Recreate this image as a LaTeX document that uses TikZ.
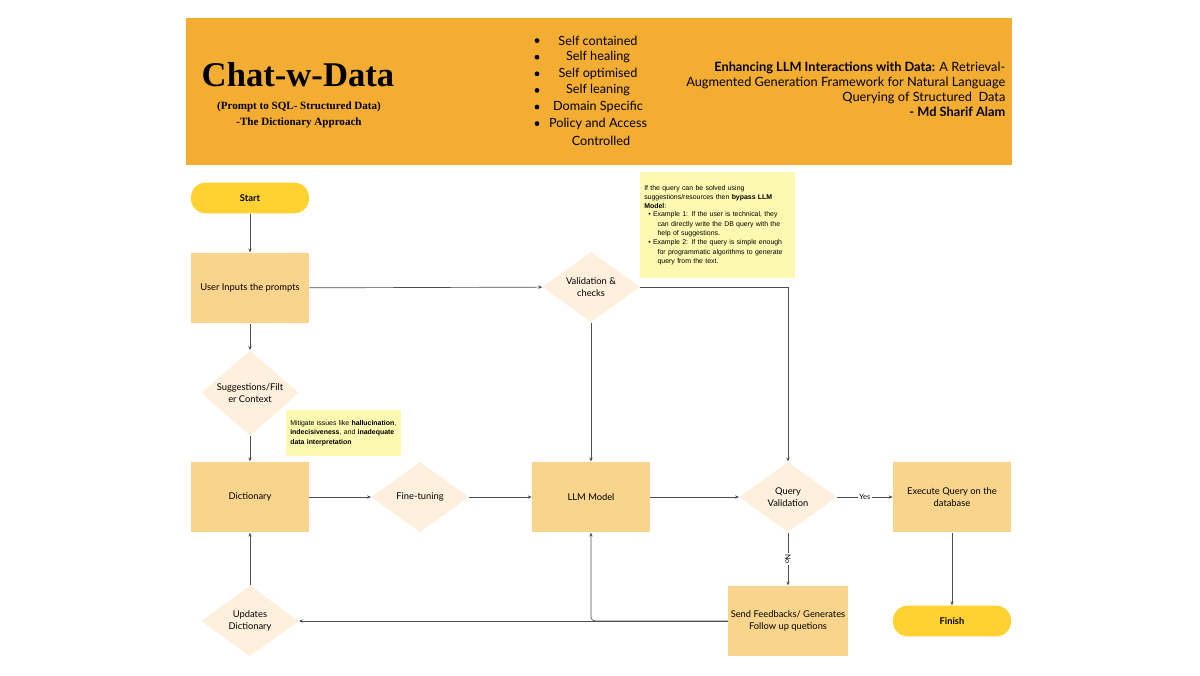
\documentclass[tikz,border=0pt]{standalone}
\usepackage{fontspec}
\setmainfont{Lato}
\newfontfamily\titlefont{Liberation Serif}
\newfontfamily\notefont{Liberation Sans}
\usetikzlibrary{shapes.geometric,arrows.meta}
\definecolor{banner}{HTML}{F4AD33}
\definecolor{pill}{HTML}{FFD232}
\definecolor{boxfill}{HTML}{F9D48C}
\definecolor{diafill}{HTML}{FEF0DC}
\definecolor{notefill}{HTML}{FEF9B0}
\definecolor{ink}{HTML}{222222}

\begin{document}
\begin{tikzpicture}[x=0.75pt,y=-0.75pt,>={Stealth[length=3pt,width=2.5pt]},
                    font=\fontsize{7}{9}\selectfont,
                    flow/.style={->,draw=ink!80,line width=0.5pt}]
  \tikzset{
    proc/.style={rectangle,fill=boxfill,minimum width=88.5pt,minimum height=53pt,inner xsep=2pt,align=center},
    term/.style={rectangle,rounded corners=11pt,fill=pill,minimum width=88.5pt,minimum height=23pt,font=\fontsize{7}{9}\selectfont\bfseries},
    check/.style={diamond,fill=diafill,minimum width=73pt,minimum height=53pt,inner sep=0pt,align=center},
    note/.style={rectangle,fill=notefill,inner sep=3pt,align=left,font=\notefont\fontsize{5.2}{7}\selectfont,anchor=north west}
  }
  \useasboundingbox (0,0) rectangle (1200,675);

  % banner
  \fill[banner] (186,18) rectangle (1012,165);
  \node (title) at (298,75) {\titlefont\bfseries\fontsize{26}{30}\selectfont Chat-w-Data};
  \node[align=center,font=\titlefont\bfseries\fontsize{8.3}{12.5}\selectfont] (sub) at (299,115)
    {(Prompt to SQL- Structured Data)\\-The Dictionary Approach};
  \foreach \t [count=\i] in {Self contained,Self healing,Self optimised,Self leaning,Domain Specific,Policy and Access} {
    \node[font=\fontsize{9.5}{12}\selectfont] (b\i) at (598,24+16.6*\i) {\t};
    \fill (537,24+16.6*\i) circle (1.8pt);
  }
  \node[font=\fontsize{9.5}{12}\selectfont] (b7) at (601,141) {Controlled};
  \node[align=right,anchor=east,font=\fontsize{9.6}{11.3}\selectfont] (paper) at (1010,89)
    {\textbf{Enhancing LLM Interactions with Data:} A Retrieval-\\
     Augmented Generation Framework for Natural Language\\
     Querying of Structured\ \ Data\\
     \textbf{- Md Sharif Alam}};

  % flow nodes
  \node[term]  (start)  at (250,198) {Start};
  \node[proc]  (user)   at (250,288) {User Inputs the prompts};
  \node[check] (sugg)   at (250,393) {Suggestions/Filt\\er Context};
  \node[proc]  (dict)   at (250,497) {Dictionary};
  \node[check] (upd)    at (250,621) {Updates\\Dictionary};
  \node[check] (tune)   at (420,497) {Fine-tuning};
  \node[proc]  (llm)    at (591,497) {LLM Model};
  \node[check] (valid)  at (591,287) {Validation \&\\checks};
  \node[check] (qval)   at (788,497) {Query\\Validation};
  \node[proc]  (exec)   at (952,497) {Execute Query on the\\database};
  \node[term]  (finish) at (952,621) {Finish};
  \node[proc]  (feed)   at (788,621) {Send Feedbacks/ Generates\\Follow up quetions};

  % notes
  \node[note,minimum height=79pt,text width=110pt] (bypass) at (640,172)
    {If the query can be solved using\\suggestions/resources then \textbf{bypass LLM}\\\textbf{Model}:\\[-1pt]
     \hspace*{3pt}\textbullet\ Example 1: If the user is technical, they\\
     \hspace*{10pt}can directly write the DB query with the\\
     \hspace*{10pt}help of suggestions.\\
     \hspace*{3pt}\textbullet\ Example 2: If the query is simple enough\\
     \hspace*{10pt}for programmatic algorithms to generate\\
     \hspace*{10pt}query from the text.};
  \node[note,minimum height=34pt,text width=80pt] (mitigate) at (286,410)
    {Mitigate issues like \textbf{hallucination},\\\textbf{indecisiveness}, and \textbf{inadequate}\\\textbf{data interpretation}};

  % connectors
  \draw[flow] (start) -- (user);
  \draw[flow] (user) -- (sugg);
  \draw[flow] (sugg) -- (dict);
  \draw[flow] (user) -- (valid);
  \draw[flow] (valid.east) -| (qval.north);
  \draw[flow] (valid) -- (llm);
  \draw[flow] (dict) -- (tune);
  \draw[flow] (tune) -- (llm);
  \draw[flow] (llm) -- (qval);
  \draw[flow] (qval) -- node[fill=white,inner sep=1pt,font=\fontsize{5.5}{6}\selectfont] {Yes} (exec);
  \draw[flow] (qval) -- node[fill=white,inner sep=1pt,rotate=-90,font=\fontsize{5.5}{6}\selectfont] {No} (feed);
  \draw[flow] (exec) -- (finish);
  \draw[flow] (feed) -- (upd);
  \draw[flow,rounded corners=3pt] (feed.west) -| (llm.south);
  \draw[flow] (upd) -- (dict);
\end{tikzpicture}
\end{document}
